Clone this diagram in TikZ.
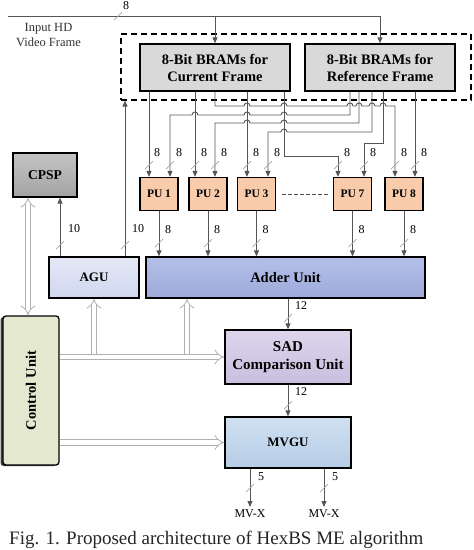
\documentclass[tikz,border=0pt]{standalone}
\usepackage{fontspec}
\setmainfont{Liberation Serif}
\usepackage{graphicx}
\usetikzlibrary{arrows.meta,shadows}

\definecolor{wiregray}{HTML}{555555}
\definecolor{markgray}{HTML}{A6A6A6}
\definecolor{dblgray}{HTML}{B0B0B0}
\definecolor{bramfill}{HTML}{D9D9D9}
\definecolor{cpsptop}{HTML}{C4C4C4}
\definecolor{cpspbot}{HTML}{A3A3A3}
\definecolor{pufill}{HTML}{F8CBAA}
\definecolor{agutop}{HTML}{E4E8F6}
\definecolor{agubot}{HTML}{D0D7EF}
\definecolor{addtop}{HTML}{B4C0E8}
\definecolor{addbot}{HTML}{9DAADB}
\definecolor{cufill}{HTML}{E3E8CF}
\definecolor{sadtop}{HTML}{DDD5EC}
\definecolor{sadbot}{HTML}{C9BEDF}
\definecolor{mvgutop}{HTML}{CFE0F1}
\definecolor{mvgubot}{HTML}{B6CDE6}

\tikzset{
  blockbox/.style={draw=black, line width=1.3pt, align=center, inner sep=0pt, text=black},
  bram/.style={blockbox, fill=bramfill, minimum width=150pt, minimum height=47pt,
    font=\bfseries\fontsize{14.5}{17}\selectfont},
  pubox/.style={blockbox, fill=pufill, minimum width=38pt, minimum height=33pt,
    font=\bfseries\fontsize{11.5}{12}\selectfont},
  sig/.style={draw=wiregray, line width=0.9pt, -{Triangle[length=6pt,width=5pt]}},
  hollow/.style={draw=dblgray, line width=0.8pt, double=white, double distance=4.5pt},
  busmark/.style={draw=markgray, line width=0.7pt},
  num/.style={inner sep=0pt, font=\fontsize{12}{12}\selectfont}
}

\begin{document}
\begin{tikzpicture}[x=1pt, y=-1pt]
    \useasboundingbox (0,0) rectangle (474,550);

    % frame memories
    \node[draw=black, line width=1.1pt, dash pattern=on 6pt off 4pt,
        minimum width=350pt, minimum height=66pt] (mem) at (296,67) {};
    \node[bram] (cur) at (215,67.5) {8-Bit BRAMs for\\Current Frame};
    \node[bram] (ref) at (380,67.5) {8-Bit BRAMs for\\Reference Frame};

    % processing units
    \node[pubox] (pu1) at (159,194) {PU 1};
    \node[pubox] (pu2) at (208,194) {PU 2};
    \node[pubox] (pu3) at (256.5,194) {PU 3};
    \node[pubox] (pu7) at (352.5,194) {PU 7};
    \node[pubox] (pu8) at (404,194) {PU 8};
    \draw[draw=wiregray, line width=0.9pt, dash pattern=on 4pt off 2pt,
        shorten <=6pt, shorten >=3pt] (pu3) -- (pu7);

    % other blocks
    \node[blockbox, top color=cpsptop, bottom color=cpspbot, minimum width=64pt,
        minimum height=44pt, font=\bfseries\fontsize{13.5}{14}\selectfont] (cpsp) at (45,175) {CPSP};
    \node[blockbox, top color=agutop, bottom color=agubot, minimum width=90pt,
        minimum height=41pt, font=\bfseries\fontsize{13}{13}\selectfont] (agu) at (94,277.5) {AGU};
    \node[blockbox, top color=addtop, bottom color=addbot, minimum width=279pt,
        minimum height=41pt, font=\bfseries\fontsize{14.5}{15}\selectfont] (add) at (285.5,277.5) {Adder Unit};
    \node[blockbox, fill=cufill, rounded corners=3pt, minimum width=56pt, minimum height=149pt,
        general shadow={fill=black!75, shadow xshift=-2.5pt, shadow yshift=-1pt},
        font=\bfseries\fontsize{14.5}{15}\selectfont] (cu) at (31,390.5) {\rotatebox{90}{Control Unit}};
    \node[blockbox, top color=sadtop, bottom color=sadbot, minimum width=126pt,
        minimum height=54pt, font=\bfseries\fontsize{15}{18}\selectfont] (sad) at (288,357) {SAD\\Comparison Unit};
    \node[blockbox, top color=mvgutop, bottom color=mvgubot, minimum width=126pt,
        minimum height=51pt, font=\bfseries\fontsize{13}{13}\selectfont] (mvgu) at (288,442.5) {MVGU};

    % input frame
    \node[align=center, text=black!80, font=\fontsize{12.5}{15}\selectfont] (inlbl) at (48.5,35) {Input HD\\Video Frame};
    \coordinate (in) at (8,16);
    \draw[sig] (in) -| (cur.north);
    \draw[sig] (in) -| (ref.north);
        \draw[busmark] (114,20) -- (122,12);
        \node[num] (n0) at (126,6) {8};

    % current frame to PUs
    \draw[sig] ([xshift=-66pt]cur.south) -- ([xshift=-10pt]pu1.north);
    \draw[sig] ([xshift=-20pt]cur.south) -- ([xshift=-13pt]pu2.north);
    \draw[sig] ([xshift=32pt]cur.south) -- ([xshift=-9.5pt]pu3.north);
    \draw[sig] ([xshift=69pt]cur.south) -- ++(0,65) -| ([xshift=-14.5pt]pu7.north);
    \draw[sig] (cur.south) -- (215,106) -- (244,106) .. controls (244,102) and (250,102) .. (250,106)
        -- (281,106) .. controls (281,102) and (287,102) .. (287,106)
        -- (347,106) .. controls (347,102) and (353,102) .. (353,106)
        -- (356,106) .. controls (356,102) and (362,102) .. (362,106)
        -- (369,106) .. controls (369,102) and (375,102) .. (375,106)
        -- (380,106) .. controls (380,102) and (386,102) .. (386,106)
        -- (395,106) -- ([xshift=-9pt]pu8.north);

    % reference frame to PUs
    \draw[sig] ([xshift=-30pt]ref.south) -- (350,115)
        -- (287,115) .. controls (287,111) and (281,111) .. (281,115)
        -- (250,115) .. controls (250,111) and (244,111) .. (244,115)
        -- (198,115) .. controls (198,111) and (192,111) .. (192,115)
        -- (170,115) -- ([xshift=11pt]pu1.north);
    \draw[sig] ([xshift=-21pt]ref.south) -- (359,123)
        -- (287,123) .. controls (287,119) and (281,119) .. (281,123)
        -- (250,123) .. controls (250,119) and (244,119) .. (244,123)
        -- (215,123) -- ([xshift=7pt]pu2.north);
    \draw[sig] ([xshift=-8pt]ref.south) -- (372,132)
        -- (287,132) .. controls (287,128) and (281,128) .. (281,132)
        -- (268,132) -- ([xshift=11.5pt]pu3.north);
    \draw[sig] ([xshift=3pt]ref.south) -- ++(0,52) -| ([xshift=11.5pt]pu7.north);
    \draw[sig] ([xshift=35pt]ref.south) -- ([xshift=11pt]pu8.north);

    % bus widths into PUs
        \draw[busmark] (145,169) -- (153,161);  \node[num] (l1) at (157,153) {8};
        \draw[busmark] (166,169) -- (174,161);  \node[num] (l2) at (179,153) {8};
        \draw[busmark] (191,169) -- (199,161);  \node[num] (l3) at (204,153) {8};
        \draw[busmark] (211,169) -- (219,161);  \node[num] (l4) at (224,153) {8};
        \draw[busmark] (243,169) -- (251,161);  \node[num] (l5) at (256,153) {8};
        \draw[busmark] (264,169) -- (272,161);  \node[num] (l6) at (277,153) {8};
        \draw[busmark] (334,169) -- (342,161);  \node[num] (l7) at (347,153) {8};
        \draw[busmark] (360,169) -- (368,161);  \node[num] (l8) at (373,153) {8};
        \draw[busmark] (391,169) -- (399,161);  \node[num] (l9) at (404,153) {8};
        \draw[busmark] (411,169) -- (419,161);  \node[num] (l10) at (424,153) {8};

    % PUs to adder
    \draw[sig] (pu1.south) -- (pu1.south |- add.north);
        \draw[busmark] (155,247) -- (163,239);  \node[num] (o1) at (168,230) {8};
    \draw[sig] (pu2.south) -- (pu2.south |- add.north);
        \draw[busmark] (204,247) -- (212,239);  \node[num] (o2) at (217,230) {8};
    \draw[sig] (pu3.south) -- (pu3.south |- add.north);
        \draw[busmark] (252.5,247) -- (260.5,239);  \node[num] (o3) at (265.5,230) {8};
    \draw[sig] (pu7.south) -- (pu7.south |- add.north);
        \draw[busmark] (348.5,247) -- (356.5,239);  \node[num] (o7) at (361.5,230) {8};
    \draw[sig] (pu8.south) -- (pu8.south |- add.north);
        \draw[busmark] (400,247) -- (408,239);  \node[num] (o8) at (413,230) {8};

    % address generation
    \coordinate (ac) at ([xshift=-34pt]agu.north);
    \draw[sig] (ac) -- (ac |- cpsp.south);
        \draw[busmark] (56,249) -- (64,241);  \node[num] (a1) at (74,229) {10};
    \coordinate (am) at ([xshift=31pt]agu.north);
    \draw[sig] (am) -- (am |- mem.south);
        \draw[busmark] (121,249) -- (129,241);  \node[num] (a2) at (138,229) {10};

    % SAD path
    \draw[sig] (sad.north |- add.south) -- (sad.north);
        \draw[busmark] (284,322) -- (292,314);  \node[num] (s1) at (301,306) {12};
    \draw[sig] (sad.south) -- (mvgu.north);
        \draw[busmark] (284,409) -- (292,401);  \node[num] (s2) at (301,392) {12};

    % motion vector outputs
    \node[anchor=north, inner sep=2pt, font=\fontsize{12}{12}\selectfont] (mv1) at (250,507) {MV-X};
    \node[anchor=north, inner sep=2pt, font=\fontsize{12}{12}\selectfont] (mv2) at (324,507) {MV-X};
    \draw[sig] (mv1.north |- mvgu.south) -- (mv1.north);
        \draw[busmark] (246,492) -- (254,484);  \node[num] (m1) at (261,477) {5};
    \draw[sig] (mv2.north |- mvgu.south) -- (mv2.north);
        \draw[busmark] (320,492) -- (328,484);  \node[num] (m2) at (335,477) {5};

    % control signals
    \coordinate (cc) at ([xshift=-17pt]cpsp.south);
    \draw[hollow, {Implies}-{Implies}] (cc) -- (cc |- cu.north);
    \draw[hollow, -{Implies}] (sad.west -| cu.east) -- (sad.west);
    \draw[hollow, -{Implies}] (mvgu.west -| cu.east) -- (mvgu.west);
    \coordinate (j1) at (agu.south |- sad.west);
    \draw[hollow, -{Implies}] ([yshift=3pt]j1) -- (agu.south);
    \coordinate (ab) at ([xshift=-98.5pt]add.south);
    \coordinate (j2) at (ab |- sad.west);
    \draw[hollow, -{Implies}] ([yshift=3pt]j2) -- (ab);

    \node[anchor=base west, inner sep=0pt, text=black!85, font=\fontsize{19}{19}\selectfont] (cap)
        at (9,544) {Fig. 1. Proposed architecture of HexBS ME algorithm};
\end{tikzpicture}
\end{document}
